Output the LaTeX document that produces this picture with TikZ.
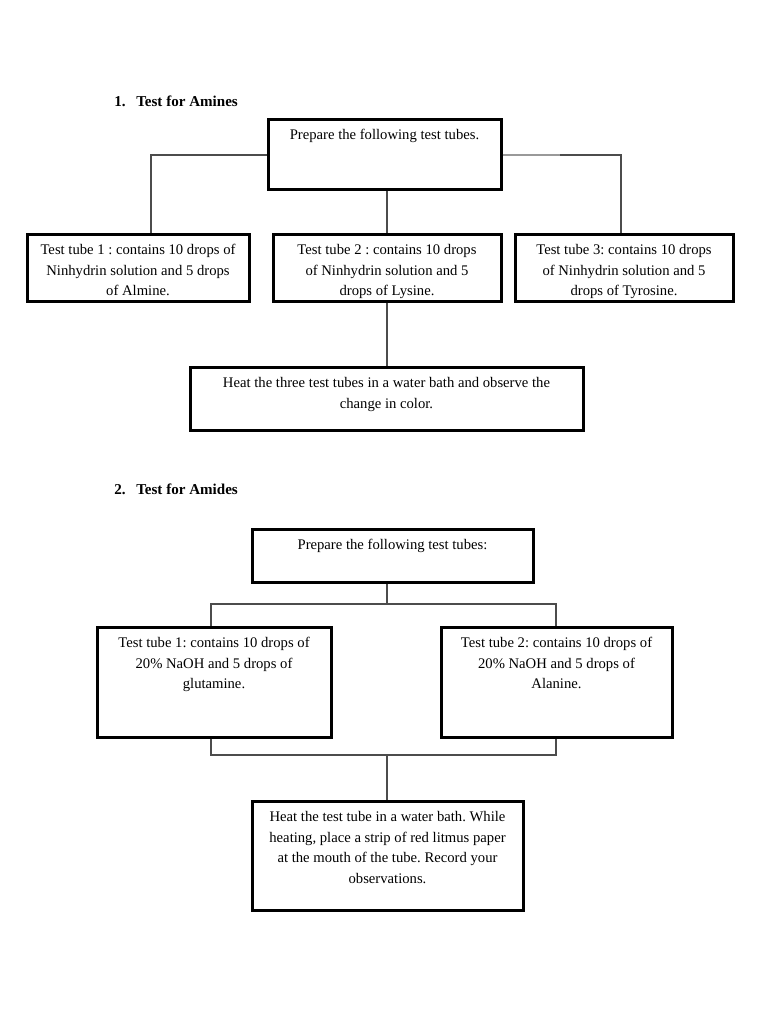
\documentclass[tikz,border=0pt]{standalone}
\usepackage{fontspec}
\setmainfont{Liberation Serif}
\usetikzlibrary{fit}
\frenchspacing
\begin{document}
\begin{tikzpicture}[x=0.75pt,y=-0.75pt,
  box/.style={draw=black, line width=2.25pt, inner sep=0pt},
  txt/.style={anchor=north, inner sep=0pt, align=center, font=\fontsize{11}{15.4}\selectfont, yshift=-8.7pt},
  conn/.style={draw=black!70, line width=0.8pt},
  connlight/.style={draw=black!40, line width=0.8pt},
  title/.style={anchor=base west, inner sep=0pt, font=\fontsize{11.3}{13}\selectfont\bfseries}]
\useasboundingbox[fill=white] (0,0) rectangle (768,1024);

% Section 1
\node[title] (t1title) at (114,107) {\makebox[16.5pt][l]{1.}Test for Amines};

\node[box, fit={(268,119) (501,189)}] (A) {};
\node[txt] (At) at (A.north) {Prepare the following test tubes.};

\node[box, fit={(27,234) (249,301)}] (T1) {};
\node[txt] (T1t) at (T1.north) {Test tube 1 : contains 10 drops of\\Ninhydrin solution and 5 drops\\of Almine.};

\node[box, fit={(273,234) (501,301)}] (T2) {};
\node[txt] (T2t) at (T2.north) {Test tube 2 : contains 10 drops\\of Ninhydrin solution and 5\\drops of Lysine.};

\node[box, fit={(515,234) (733,301)}] (T3) {};
\node[txt] (T3t) at (T3.north) {Test tube 3: contains 10 drops\\of Ninhydrin solution and 5\\drops of Tyrosine.};

\node[box, fit={(190,367) (583,430)}] (H1) {};
\node[txt] (H1t) at (H1.north) {Heat the three test tubes in a water bath and observe the\\change in color.};

\coordinate (jl) at (151,155);
\coordinate (jr) at (621,155);
\coordinate (jm) at (560,155);
\coordinate (jc) at (387,0);
\draw[conn] (A.west |- jl) -- (jl) -- (jl |- T1.north);
\draw[connlight] (A.east |- jr) -- (jm);
\draw[conn] (jm) -- (jr) -- (jr |- T3.north);
\draw[conn] (jc |- A.south) -- (jc |- T2.north);
\draw[conn] (jc |- T2.south) -- (jc |- H1.north);

% Section 2
\node[title] (t2title) at (114,494) {\makebox[16.5pt][l]{2.}Test for Amides};

\node[box, fit={(252,529) (533,582)}] (B) {};
\node[txt] (Bt) at (B.north) {Prepare the following test tubes:};

\node[box, fit={(97,627) (331,737)}] (U1) {};
\node[txt] (U1t) at (U1.north) {Test tube 1: contains 10 drops of\\20\% NaOH and 5 drops of\\glutamine.};

\node[box, fit={(441,627) (672,737)}] (U2) {};
\node[txt] (U2t) at (U2.north) {Test tube 2: contains 10 drops of\\20\% NaOH and 5 drops of\\Alanine.};

\node[box, fit={(252,801) (523,910)}] (H2) {};
\node[txt] (H2t) at (H2.north) {Heat the test tube in a water bath. While\\heating, place a strip of red litmus paper\\at the mouth of the tube. Record your\\observations.};

\coordinate (ka) at (387,604);
\coordinate (kl) at (211,604);
\coordinate (kr) at (556,604);
\coordinate (la) at (387,755);
\coordinate (ll) at (211,755);
\coordinate (lr) at (556,755);
\draw[conn] (ka |- B.south) -- (ka);
\draw[conn] (kl |- U1.north) -- (kl) -- (kr) -- (kr |- U2.north);
\draw[conn] (ll |- U1.south) -- (ll) -- (lr) -- (lr |- U2.south);
\draw[conn] (la) -- (la |- H2.north);
\end{tikzpicture}
\end{document}
